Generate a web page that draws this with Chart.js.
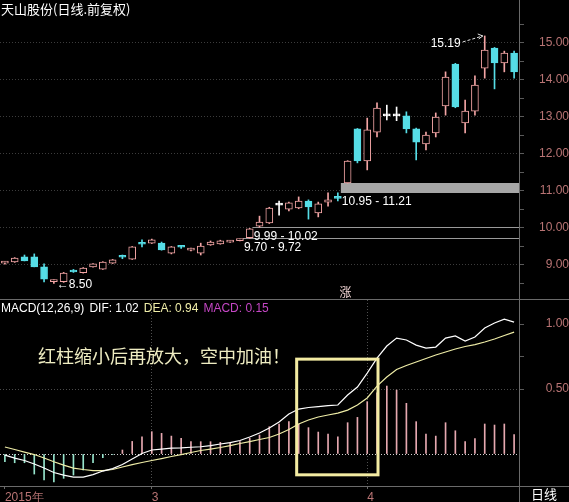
<!DOCTYPE html>
<html>
<head>
<meta charset="utf-8">
<script src="https://cdn.jsdelivr.net/npm/chart.js@4.4.1/dist/chart.umd.min.js"></script>
<style>
  body { margin: 0; background: #000; }
  #wrap { position: relative; width: 569px; height: 502px; background: #000; overflow: hidden;
    font-family: "Liberation Sans", Arial, sans-serif; color: #fff; }
  canvas { position: absolute; left: 0; }
  #priceChart { top: 0; }
  #macdChart { top: 300px; }
  .rule { position: absolute; background: #6a6a6a; }
  .txt { position: absolute; white-space: nowrap; font-size: 12px; line-height: 14px; transform: translateY(-50%); }
  .cjk { font-family: "Noto Sans CJK SC", sans-serif; }
  #title { left: 1px; top: 9px; font-size: 13px; }
  #macdHead { left: 1px; top: 308px; }
  #macdHead span { margin-right: 5px; }
  #note { left: 38px; top: 355px; font-size: 18px; line-height: 22px; color: #efedc2; }
  #dayTag { left: 531px; top: 494px; font-size: 13px; }
  #riseTag { font-size: 12px; color: #f3d6d6; transform: translate(-50%, -50%); }
  #highTag { transform: translate(-100%, -50%); }
</style>
</head>
<body>
<div id="wrap">
  <canvas id="priceChart" width="569" height="299"></canvas>
  <canvas id="macdChart" width="569" height="202"></canvas>
  <div class="rule" style="left:0;top:299px;width:569px;height:1px"></div>
  <div class="rule" style="left:519px;top:486px;width:50px;height:1px"></div>
  <div class="rule" style="left:519px;top:486px;width:1px;height:16px"></div>

  <div id="title" class="txt cjk">天山股份(日线.前复权)</div>
  <div id="macdHead" class="txt">
    <span>MACD(12,26,9)</span><span>DIF: 1.02</span><span style="color:#efeda8">DEA: 0.94</span><span style="color:#c446c4">MACD: 0.15</span>
  </div>
  <div id="note" class="txt cjk">红柱缩小后再放大，空中加油！</div>
  <div id="dayTag" class="txt cjk">日线</div>
  <div id="riseTag" class="txt cjk">涨</div>
  <div id="lowTag" class="txt">←8.50</div>
  <div id="highTag" class="txt">15.19</div>
  <div id="gapTag0" class="txt">9.70 - 9.72</div>
  <div id="gapTag1" class="txt">9.99 - 10.02</div>
  <div id="gapTag2" class="txt">10.95 - 11.21</div>
</div>

<script>
  // one label per trading day, month marks only (53 days)
  const tickLabels = [
    '2015年', '', '', '', '', '', '', '', '', '',
    '', '', '', '', '', '3', '', '', '', '',
    '', '', '', '', '', '', '', '', '', '',
    '', '', '', '', '', '', '', '4', '', '',
    '', '', '', '', '', '', '', '', '', '',
    '', '', '',
  ];

  const opens = [9.05, 9.08, 9.22, 9.22, 8.95, 8.55, 8.55, 8.86, 8.79, 8.95, 8.89, 9.05, 9.23, 9.16, 9.58, 9.59,
    9.59, 9.32, 9.50, 9.40, 9.32, 9.54, 9.57, 9.62, 9.66, 9.74, 10.05, 10.14, 10.62, 10.51, 10.54, 10.73,
    10.41, 10.70, 10.82, 11.22, 12.68, 11.81, 12.59, 13.03, 13.03, 13.03, 12.68, 12.27, 12.57, 13.30, 14.43,
    12.84, 13.16, 14.32, 14.86, 14.46, 14.73];
  const highs = [9.09, 9.20, 9.27, 9.30, 9.03, 8.60, 8.80, 8.88, 8.93, 9.04, 9.09, 9.15, 9.27, 9.50, 9.68, 9.70,
    9.62, 9.50, 9.52, 9.46, 9.59, 9.65, 9.67, 9.66, 9.70, 9.99, 10.32, 10.56, 10.73, 10.70, 10.84, 10.76,
    10.70, 10.95, 10.95, 11.82, 12.69, 12.97, 13.38, 13.32, 13.27, 13.14, 12.70, 12.59, 13.11, 14.22, 14.45,
    13.46, 14.11, 15.19, 14.88, 14.78, 14.78];
  const lows = [9.02, 9.07, 9.11, 8.95, 8.54, 8.50, 8.53, 8.80, 8.78, 8.94, 8.88, 9.04, 9.17, 9.15, 9.49, 9.58,
    9.40, 9.30, 9.45, 9.38, 9.27, 9.53, 9.56, 9.61, 9.65, 9.72, 10.02, 10.12, 10.35, 10.46, 10.52, 10.24,
    10.30, 10.59, 10.73, 11.21, 11.76, 11.57, 12.46, 12.92, 12.90, 12.57, 11.84, 12.11, 12.46, 13.05, 13.25,
    12.57, 13.05, 14.05, 13.76, 14.22, 14.05];
  const closes = [9.06, 9.19, 9.11, 8.95, 8.62, 8.56, 8.78, 8.81, 8.92, 9.03, 9.08, 9.14, 9.21, 9.49, 9.56, 9.68,
    9.41, 9.49, 9.48, 9.43, 9.51, 9.62, 9.65, 9.65, 9.69, 9.98, 10.16, 10.54, 10.62, 10.68, 10.73, 10.57,
    10.65, 10.76, 10.80, 11.81, 11.81, 12.65, 13.24, 13.03, 13.03, 12.68, 12.32, 12.51, 13.00, 14.08, 13.27,
    13.16, 13.86, 14.81, 14.46, 14.73, 14.22];

  const difValues = [-0.008, -0.031, -0.05, -0.077, -0.108, -0.142, -0.162, -0.177, -0.177, -0.158, -0.131,
    -0.112, -0.081, -0.038, 0.004, 0.031, 0.038, 0.046, 0.048, 0.052, 0.056, 0.065, 0.077, 0.088, 0.104,
    0.131, 0.162, 0.2, 0.246, 0.308, 0.346, 0.358, 0.365, 0.373, 0.377, 0.454, 0.515, 0.623, 0.738, 0.831,
    0.892, 0.877, 0.838, 0.815, 0.823, 0.892, 0.908, 0.869, 0.9, 0.969, 1.008, 1.038, 1.015];
  const deaValues = [0.054, 0.035, 0.015, -0.004, -0.031, -0.059, -0.085, -0.108, -0.119, -0.127, -0.127,
    -0.119, -0.1, -0.081, -0.065, -0.05, -0.035, -0.019, -0.004, 0.012, 0.027, 0.038, 0.05, 0.065, 0.081,
    0.096, 0.112, 0.127, 0.154, 0.188, 0.231, 0.262, 0.285, 0.3, 0.315, 0.338, 0.377, 0.431, 0.523, 0.592,
    0.65, 0.681, 0.708, 0.735, 0.762, 0.785, 0.808, 0.827, 0.842, 0.862, 0.885, 0.912, 0.938];
  const macdValues = [-0.059, -0.067, -0.067, -0.154, -0.2, -0.215, -0.187, -0.162, -0.123, -0.067, -0.028,
    -0.005, 0.031, 0.097, 0.133, 0.172, 0.159, 0.138, 0.121, 0.095, 0.095, 0.095, 0.09, 0.09, 0.095, 0.121,
    0.146, 0.21, 0.231, 0.249, 0.23, 0.203, 0.169, 0.154, 0.133, 0.241, 0.282, 0.403, 0.47, 0.523, 0.492,
    0.39, 0.249, 0.154, 0.138, 0.241, 0.179, 0.095, 0.118, 0.231, 0.223, 0.231, 0.15];

  // price gaps: candle before the gap, gap bottom, gap top
  const gapFrom = [24, 25, 34];
  const gapLows = [9.70, 9.99, 10.95];
  const gapHighs = [9.72, 10.02, 11.21];

  // highlighted MACD stretch
  const boxRange = [30, 38];
  const boxLevels = [0.73, -0.16];

  const UP = '#f2a4a4';
  const DOWN = '#56dde6';
  const FLAT = '#ffffff';
  const candleColors = opens.map((o, i) => (closes[i] > o ? UP : closes[i] < o ? DOWN : FLAT));
  const bodyFill = opens.map((o, i) => (closes[i] > o ? '#000' : candleColors[i]));

  const tickFont = { family: 'Liberation Sans', size: 12 };
  const axisColor = '#b97474';

  const gapPlugin = {
    id: 'gaps',
    beforeDatasetsDraw(chart) {
      const { ctx, chartArea, scales: { x, y } } = chart;
      ctx.save();
      gapFrom.forEach((idx, i) => {
        const left = x.getPixelForValue(idx) + 3;
        const top = Math.round(y.getPixelForValue(gapHighs[i]));
        const h = Math.max(1, Math.round(y.getPixelForValue(gapLows[i])) - top);
        ctx.fillStyle = h > 2 ? '#a6a6a6' : '#9a9a9a';
        ctx.fillRect(left, top, chartArea.right - left, h);
      });
      ctx.restore();
    },
    afterDatasetsDraw(chart) {
      // dashed arrow from the 15.19 label to the high
      const { ctx, scales: { x, y } } = chart;
      const hi = highs.indexOf(Math.max(...highs));
      const tx = x.getPixelForValue(hi) - 2;
      const ty = y.getPixelForValue(highs[hi]);
      ctx.save();
      ctx.strokeStyle = '#e8e8e8';
      ctx.lineWidth = 1;
      ctx.setLineDash([3, 2]);
      ctx.beginPath();
      ctx.moveTo(tx - 20, ty + 6);
      ctx.lineTo(tx, ty);
      ctx.stroke();
      ctx.setLineDash([]);
      ctx.beginPath();
      ctx.moveTo(tx - 5, ty - 2);
      ctx.lineTo(tx, ty);
      ctx.lineTo(tx - 4, ty + 3);
      ctx.stroke();
      ctx.restore();
    },
  };

  const boxPlugin = {
    id: 'refuelBox',
    afterDatasetsDraw(chart) {
      const { ctx, scales: { x, y } } = chart;
      const left = x.getPixelForValue(boxRange[0]) - 2;
      const right = x.getPixelForValue(boxRange[1]) + 1;
      const top = y.getPixelForValue(boxLevels[0]);
      const bottom = y.getPixelForValue(boxLevels[1]);
      ctx.save();
      ctx.strokeStyle = '#f3eba2';
      ctx.lineWidth = 3;
      ctx.strokeRect(left, top, right - left, bottom - top);
      ctx.restore();
    },
  };

  const priceChart = new Chart(document.getElementById('priceChart'), {
    type: 'bar',
    data: {
      labels: tickLabels,
      datasets: [
        {
          label: 'body',
          data: opens.map((o, i) => [o, closes[i]]),
          backgroundColor: bodyFill,
          borderColor: candleColors,
          borderWidth: 1,
          borderSkipped: false,
          barThickness: 7,
          minBarLength: 2,
          grouped: false,
          order: 1,
        },
        {
          label: 'wick',
          data: lows.map((l, i) => [l, highs[i]]),
          backgroundColor: candleColors,
          barThickness: 1,
          grouped: false,
          order: 2,
        },
      ],
    },
    options: {
      responsive: false,
      animation: false,
      layout: { padding: 0 },
      plugins: { legend: { display: false }, tooltip: { enabled: false } },
      scales: {
        x: { display: false, offset: true },
        y: {
          position: 'right',
          min: 8.081,
          max: 16.162,
          afterFit(s) { s.width = 50; s.paddingTop = 0; s.paddingBottom = 0; },
          ticks: {
            stepSize: 0.5,
            autoSkip: false,
            crossAlign: 'far',
            color: axisColor,
            font: tickFont,
            callback: (v) => (Number.isInteger(v) && v >= 9 && v <= 15 ? v.toFixed(2) : ''),
          },
          grid: {
            color: (c) => (Number.isInteger(c.tick.value) && c.tick.value <= 15 ? '#3c3c3c' : 'transparent'),
            tickColor: (c) => (c.tick.value % 0.5 === 0 && c.tick.value <= 15.5 && c.tick.value >= 8.5 ? '#5a5a5a' : 'transparent'),
            tickLength: 5,
          },
          border: { display: true, color: '#6a6a6a', width: 1, dash: [1, 2] },
        },
      },
    },
    plugins: [gapPlugin],
  });

  const macdChart = new Chart(document.getElementById('macdChart'), {
    type: 'bar',
    data: {
      labels: tickLabels,
      datasets: [
        { type: 'line', label: 'DIF', data: difValues, borderColor: '#ffffff', borderWidth: 1.2, pointRadius: 0, tension: 0, order: 1 },
        { type: 'line', label: 'DEA', data: deaValues, borderColor: '#eeeca6', borderWidth: 1.2, pointRadius: 0, tension: 0, order: 2 },
        {
          label: 'MACD',
          data: macdValues,
          backgroundColor: macdValues.map((v) => (v >= 0 ? '#e6a8b0' : '#96e4cc')),
          barThickness: 1,
          order: 3,
        },
      ],
    },
    options: {
      responsive: false,
      animation: false,
      layout: { padding: 0 },
      plugins: { legend: { display: false }, tooltip: { enabled: false } },
      scales: {
        x: {
          offset: true,
          afterFit(s) { s.height = 16; s.paddingLeft = 0; s.paddingRight = 0; },
          ticks: { align: 'start', autoSkip: false, maxRotation: 0, padding: 1, color: axisColor, font: tickFont },
          grid: {
            offset: false,
            color: (c) => (c.index > 0 && tickLabels[c.index] ? '#505050' : 'transparent'),
            tickColor: (c) => (tickLabels[c.index] ? '#6a6a6a' : 'transparent'),
            tickLength: 3,
          },
          border: { display: true, color: '#6a6a6a', dash: [1, 2] },
        },
        y: {
          position: 'right',
          min: -0.246,
          max: 1.185,
          afterFit(s) { s.width = 50; s.paddingTop = 0; s.paddingBottom = 0; },
          ticks: {
            stepSize: 0.25,
            autoSkip: false,
            crossAlign: 'far',
            color: axisColor,
            font: tickFont,
            callback: (v) => (v === 0.5 || v === 1 ? v.toFixed(2) : ''),
          },
          grid: {
            color: (c) => (c.tick.value === 0 ? '#cfcfcf' : c.tick.value === 0.5 ? '#4a4a4a' : 'transparent'),
            tickColor: (c) => ([0.5, 0.75, 1].includes(c.tick.value) ? '#5a5a5a' : 'transparent'),
            tickLength: 5,
          },
          border: { display: true, color: '#6a6a6a', width: 1, dash: [1, 2] },
        },
      },
    },
    plugins: [boxPlugin],
  });

  // text labels anchored on the price scale
  const px = priceChart.scales.x;
  const py = priceChart.scales.y;
  function place(id, left, top) {
    const el = document.getElementById(id);
    el.style.left = left + 'px';
    el.style.top = top + 'px';
  }
  const lowIdx = lows.indexOf(Math.min(...lows));
  place('lowTag', px.getPixelForValue(lowIdx) + 3, py.getPixelForValue(lows[lowIdx]) + 1);
  const highIdx = highs.indexOf(Math.max(...highs));
  place('highTag', px.getPixelForValue(highIdx) - 24, py.getPixelForValue(highs[highIdx]) + 7);
  gapFrom.forEach((idx, i) => {
    place('gapTag' + i, px.getPixelForValue(idx) + 4, py.getPixelForValue(gapLows[i]) + 8);
  });
  place('riseTag', px.getPixelForValue(35) - 2, 292);
</script>
</body>
</html>
